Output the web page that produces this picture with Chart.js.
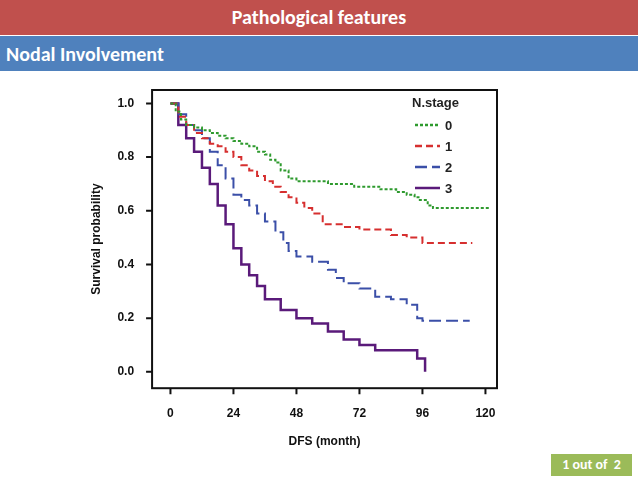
<!DOCTYPE html>
<html><head><meta charset="utf-8">
<script src="https://cdn.jsdelivr.net/npm/chart.js@4"></script>
<style>
body{margin:0;width:638px;height:478px;position:relative;background:#fff;font-family:Calibri,Carlito,"Open Sans",sans-serif;overflow:hidden}
#t1{position:absolute;left:0;top:0;width:638px;height:35px;background:#c0504d;color:#fff;font-weight:bold;font-size:20px;text-align:center;line-height:35px}
#t2{position:absolute;left:0;top:36px;width:638px;height:35px;background:#4f81bd;color:#fff;font-weight:bold;font-size:20px;line-height:37px;padding-left:6px;box-sizing:border-box}
#pg{position:absolute;left:551px;top:454px;width:81px;height:22px;background:#9bbb59;color:#fff;font-weight:bold;font-size:14px;text-align:center;line-height:22px}
#c{position:absolute;left:0;top:0}
</style></head><body>
<div id="t1">Pathological features</div>
<div id="t2">Nodal Involvement</div>
<canvas id="c" width="638" height="478"></canvas>
<div id="pg">1 out of&nbsp; 2</div>
<script>
const stageNames=['0','1','2','3'];
const s0x=[0,2,4,6,9,12,15,18,21,24,27,30,33,36,38,40,42,45,48,60,70,80,86,90,93,95,98,100,122];
const s0y=[1.0,0.97,0.94,0.92,0.91,0.90,0.89,0.88,0.87,0.86,0.85,0.84,0.82,0.81,0.79,0.78,0.75,0.72,0.71,0.70,0.69,0.68,0.67,0.66,0.65,0.64,0.62,0.61,0.61];
const s1x=[0,3,6,9,12,15,18,21,24,27,30,33,36,39,42,45,48,51,54,58,66,72,84,90,96,115];
const s1y=[1.0,0.95,0.92,0.89,0.87,0.85,0.84,0.82,0.80,0.77,0.75,0.73,0.71,0.69,0.67,0.65,0.63,0.61,0.59,0.55,0.54,0.53,0.51,0.50,0.48,0.48];
const s2x=[0,3,6,9,12,15,18,21,24,27,30,33,36,40,43,45,48,54,60,63,66,72,78,84,90,94,96,114];
const s2y=[1.0,0.96,0.92,0.90,0.87,0.82,0.77,0.72,0.66,0.64,0.62,0.59,0.56,0.52,0.48,0.45,0.43,0.41,0.38,0.35,0.33,0.31,0.28,0.27,0.25,0.20,0.19,0.19];
const s3x=[0,3,6,9,12,15,18,21,24,27,30,33,36,42,48,54,60,66,72,78,90,94,97,97];
const s3y=[1.0,0.92,0.87,0.82,0.76,0.70,0.62,0.55,0.46,0.40,0.36,0.32,0.27,0.23,0.20,0.18,0.15,0.12,0.10,0.08,0.08,0.05,0.03,0.0];
const xTicks=[0,24,48,72,96,120];
const yTicks=[0,0.2,0.4,0.6,0.8,1.0];
const colors=['#2e9a2e','#d62f2f','#3b4fa8','#5a1a7a'];
const dashes=[[3,2],[7,4],[12,5],[]];
const xs=[s0x,s1x,s2x,s3x], ys=[s0y,s1y,s2y,s3y];
const datasets=stageNames.map((n,i)=>({label:n,data:xs[i].map((x,j)=>({x,y:ys[i][j]})),borderColor:colors[i],borderDash:dashes[i],borderWidth:i==3?2.5:2,stepped:true,pointRadius:0,fill:false}));
const legendPlugin={id:'lg',afterDraw(ch){const c=ch.ctx;c.save();c.font='bold 13px Arial';c.fillStyle='#222';c.fillText('N.stage',412,107);
ch.data.datasets.forEach((d,i)=>{const y=125+i*21;c.strokeStyle=d.borderColor;c.lineWidth=2.5;c.setLineDash(d.borderDash);c.beginPath();c.moveTo(415,y);c.lineTo(440,y);c.stroke();c.setLineDash([]);c.fillStyle='#222';c.fillText(d.label,445,y+5);});
const a=ch.chartArea;c.strokeStyle='#111';c.lineWidth=2;c.strokeRect(a.left,a.top,a.right-a.left,a.bottom-a.top);
const sx=ch.scales.x,sy=ch.scales.y;c.beginPath();
xTicks.forEach(v=>{const p=sx.getPixelForValue(v);c.moveTo(p,a.bottom);c.lineTo(p,a.bottom+6);});
yTicks.forEach(v=>{const p=sy.getPixelForValue(v);c.moveTo(a.left,p);c.lineTo(a.left-6,p);});
c.stroke();c.restore();}};
new Chart(document.getElementById('c'),{type:'line',data:{datasets},
options:{responsive:false,animation:false,layout:{padding:{left:85,top:90,right:141,bottom:25}},
plugins:{legend:{display:false},tooltip:{enabled:false}},
scales:{x:{type:'linear',min:-7,max:124.4,afterBuildTicks:s=>{s.ticks=xTicks.map(v=>({value:v}))},
grid:{display:false},border:{display:false},
ticks:{color:'#111',font:{family:'Arial',weight:'bold',size:12},padding:10},
title:{display:true,text:'DFS (month)',color:'#111',font:{family:'Arial',weight:'bold',size:12}}},
y:{type:'linear',min:-0.061,max:1.05,afterBuildTicks:s=>{s.ticks=yTicks.map(v=>({value:v}))},
grid:{display:false},border:{display:false},
ticks:{color:'#111',font:{family:'Arial',weight:'bold',size:12},padding:10,callback:v=>v.toFixed(1)},
title:{display:true,text:'Survival probability',color:'#111',font:{family:'Arial',weight:'bold',size:12}}}}},
plugins:[legendPlugin]});
</script></body></html>
